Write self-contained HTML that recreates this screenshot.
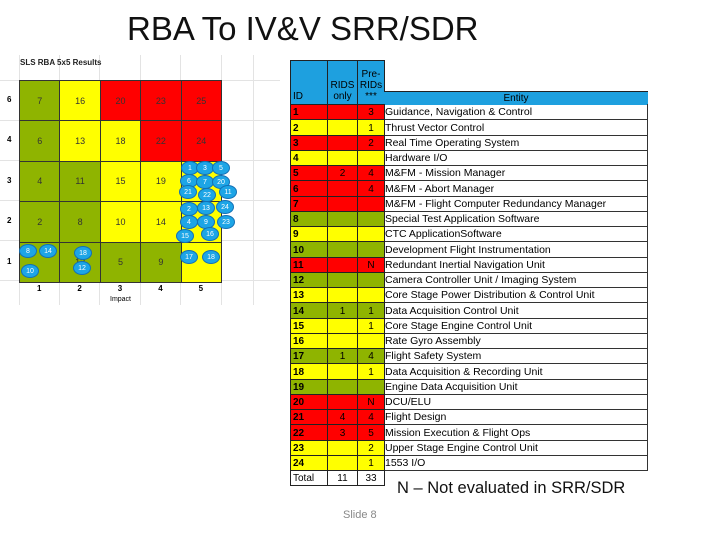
<!DOCTYPE html>
<html><head><meta charset="utf-8"><style>
body{margin:0;width:720px;height:540px;background:#fff;position:relative;overflow:hidden;font-family:"Liberation Sans",sans-serif}
.a{position:absolute;box-sizing:border-box}
.cell{position:absolute;box-sizing:border-box;border:1px solid #333;font-size:9px;display:flex;align-items:center;justify-content:center;color:#333}
.bub{position:absolute;box-sizing:border-box;background:#1da5e6;border:1.5px solid #1370b5;border-radius:50%;color:#fff;font-size:7px;display:flex;align-items:center;justify-content:center}
.tr{position:absolute;box-sizing:border-box;font-size:10px;font-family:"Liberation Sans Narrow","Liberation Sans",sans-serif;display:flex;align-items:flex-end;padding-bottom:1px}
</style></head><body>
<div class="a" style="left:127px;top:10px;font-size:33px;color:#111">RBA To IV&amp;V SRR/SDR</div>

<div class="a" style="left:0;top:55px;width:280px;height:250px" id="mx"></div>
<div class="a" style="left:0;top:0;width:720px;height:540px" id="tb"></div>

<div class="a" style="left:397px;top:479px;font-size:16.5px;color:#111">N – Not evaluated in SRR/SDR</div>
<div class="a" style="left:343px;top:509px;font-size:11px;color:#888">Slide 8</div>
<script>
const G='#8fb400',Y='#ffff00',R='#ff0000';
const matrixLikelihood=['6','4','3','2','1'];
const matrixColors=[[G,Y,R,R,R],[G,Y,Y,R,R],[G,G,Y,Y,Y],[G,G,Y,Y,Y],[G,G,G,G,Y]];
const matrixScores=[[7,16,20,23,25],[6,13,18,22,24],[4,11,15,19,''],[2,8,10,14,''],['',12,5,9,'']];
const bubbleIds=['1','3','5','6','7','20','21','22','11','2','13','24','4','9','23','15','16','8','14','10','18','12','17','18'];
const bubbleXY=[[190,113],[205,113],[221,113],[189,126],[205,127],[221,127],[188,137],[207,140],[228,137],[189,154],[206,153],[225,152],[189,167],[206,167],[226,167],[185,181],[210,179],[28,196],[48,196],[30,216],[83,198],[82,213],[189,202],[211,202]];
const mx=document.getElementById('mx');
for(let i=0;i<9;i++){const l=document.createElement('div');l.className='a';l.style.cssText=`left:0;top:${i*40+25}px;width:280px;height:1px;background:#e3e3e3`;


if(i*40+25<250)mx.appendChild(l);}
[19,59,99,140,180,221,253].forEach(x=>{const l=document.createElement('div');l.className='a';l.style.cssText=`left:${x}px;top:0;width:1px;height:250px;background:#e3e3e3`;


mx.appendChild(l);});
const t=document.createElement('div');t.className='a';t.style.cssText='left:20px;top:3px;font-size:8px;font-weight:bold;color:#222';t.textContent='SLS RBA 5x5 Results';


mx.appendChild(t);
matrixColors.forEach((row,r)=>{row.forEach((c,ci)=>{const d=document.createElement('div');d.className='cell';
d.style.cssText=`left:${19+ci*40.4}px;top:${25+r*40.4}px;width:41.4px;height:41.4px;background:${c}`;d.textContent=matrixScores[r][ci];


mx.appendChild(d);});
const lb=document.createElement('div');lb.className='a';lb.style.cssText=`left:7px;top:${40+r*40.4}px;font-size:8px;font-weight:bold`;lb.textContent=matrixLikelihood[r];


mx.appendChild(lb);});
for(let i=0;i<5;i++){const lb=document.createElement('div');lb.className='a';lb.style.cssText=`left:${37+i*40.4}px;top:229px;font-size:8px;font-weight:bold`;lb.textContent=i+1;


mx.appendChild(lb);}
const il=document.createElement('div');il.className='a';il.style.cssText='left:110px;top:241px;font-size:7px';il.textContent='Impact';


mx.appendChild(il);
bubbleIds.forEach((id,i)=>{const b=document.createElement('div');b.className='bub';const [x,y]=bubbleXY[i];
b.style.cssText=`left:${x-9}px;top:${y-7}px;width:18px;height:14px`;b.textContent=id;


mx.appendChild(b);});

const rowColors=[R,Y,R,Y,R,R,R,G,Y,G,R,G,Y,G,Y,Y,G,Y,G,R,R,R,Y,Y];
const ridsOnly=['','','','','2','','','','','','','','','1','','','1','','','','4','3','',''];
const preRids=['3','1','2','','4','4','','','','','N','','','1','1','','4','1','','N','4','5','2','1'];
const entities=['Guidance, Navigation & Control','Thrust Vector Control','Real Time Operating System','Hardware I/O','M&FM - Mission Manager','M&FM - Abort Manager','M&FM - Flight Computer Redundancy Manager','Special Test Application Software','CTC ApplicationSoftware','Development Flight Instrumentation','Redundant Inertial Navigation Unit','Camera Controller Unit / Imaging System','Core Stage Power Distribution & Control Unit','Data Acquisition Control Unit','Core Stage Engine Control Unit','Rate Gyro Assembly','Flight Safety System','Data Acquisition & Recording Unit','Engine Data Acquisition Unit','DCU/ELU','Flight Design','Mission Execution & Flight Ops','Upper Stage Engine Control Unit','1553 I/O'];
const tb=document.getElementById('tb');
function mk(css,txt,name){const d=document.createElement('div');d.className='tr';d.style.cssText=css;if(txt!==undefined)d.textContent=txt;


tb.appendChild(d);return d;}
const H='#1ea0df';
mk(`left:290px;top:60px;width:38px;height:45px;background:${H};border:1px solid #222;padding:0 0 2px 2px`,'ID','header-id');
mk(`left:327px;top:60px;width:31px;height:45px;background:${H};border:1px solid #222;justify-content:center;text-align:center;padding-bottom:2px`,'RIDS only','header-rids-only');
mk(`left:357px;top:60px;width:28px;height:45px;background:${H};border:1px solid #222;justify-content:center;text-align:center;padding-bottom:2px;line-height:11px`,'Pre- RIDs ***','header-pre-rids');
mk(`left:384px;top:91px;width:264px;height:14px;background:${H};border-top:1px solid #222;justify-content:center`,'Entity','header-entity');
const y0=104,rh=15.25;
rowColors.forEach((c,i)=>{const y=y0+i*rh;
mk(`left:290px;top:${y}px;width:38px;height:${rh+1}px;background:${c};border:1px solid #222;padding-left:2px;font-weight:bold`,String(i+1),'row-id');
mk(`left:327px;top:${y}px;width:31px;height:${rh+1}px;background:${c};border:1px solid #222;justify-content:center`,ridsOnly[i],'row-rids-only');
mk(`left:357px;top:${y}px;width:28px;height:${rh+1}px;background:${c};border:1px solid #222;justify-content:center`,preRids[i],'row-pre-rids');
mk(`left:384px;top:${y}px;width:264px;height:${rh+1}px;border-bottom:1px solid #333;border-right:1px solid #333;padding-left:1px;font-size:10.5px`,entities[i],'row-entity');
});
const yt=y0+24*rh;
mk(`left:290px;top:${yt}px;width:38px;height:${rh+1}px;border:1px solid #222;padding-left:2px`,'Total','total-label');
mk(`left:327px;top:${yt}px;width:31px;height:${rh+1}px;border:1px solid #222;justify-content:center`,'11','total-rids-only');
mk(`left:357px;top:${yt}px;width:28px;height:${rh+1}px;border:1px solid #222;justify-content:center`,'33','total-pre-rids');
</script>
</body></html>
